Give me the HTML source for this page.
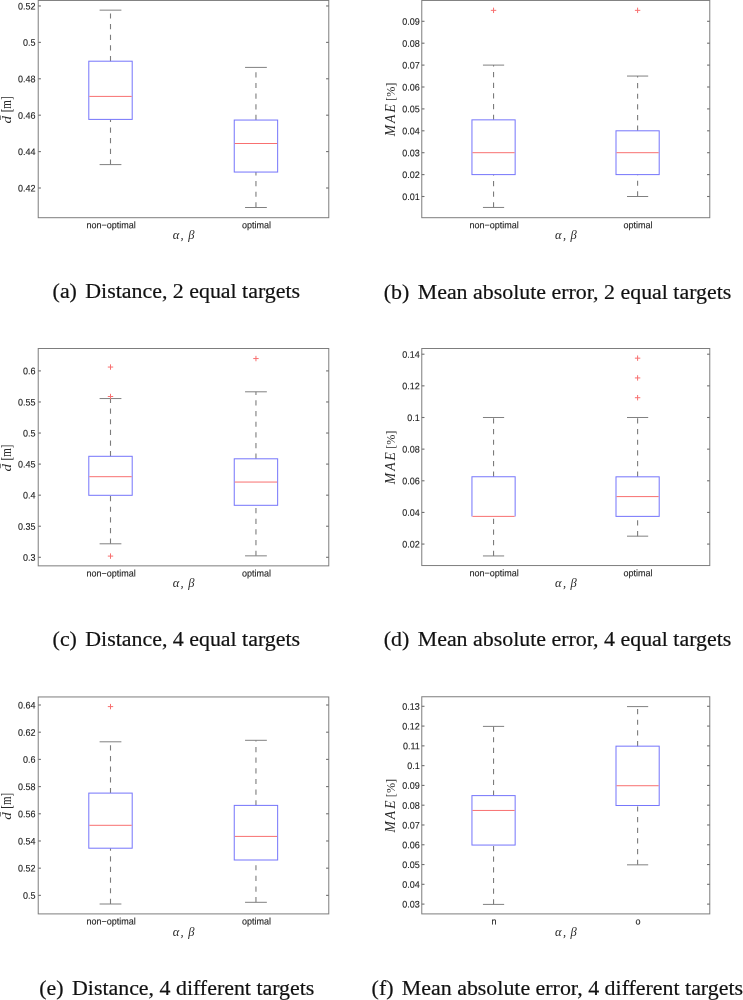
<!DOCTYPE html>
<html><head><meta charset="utf-8"><title>Boxplots</title>
<style>
html,body{margin:0;padding:0;background:#fff;}
body{width:743px;height:1000px;overflow:hidden;}
svg{display:block;}
.tk{font-family:"Liberation Sans",Arial,sans-serif;font-size:9.0px;fill:#1c1c1c;stroke:#1c1c1c;stroke-width:0.12px;}
.gx{font-family:"Liberation Serif","DejaVu Serif",serif;font-style:italic;font-size:12.5px;fill:#2a2a2a;}
.gy{font-family:"Liberation Serif","DejaVu Serif",serif;font-size:13.6px;fill:#2a2a2a;}
.it{font-style:italic;}
.cap{font-family:"Liberation Serif","Times New Roman",serif;font-size:21.9px;fill:#111;stroke:#111;stroke-width:0.2px;}
</style></head><body>
<svg width="743" height="1000" viewBox="0 0 743 1000">
<rect width="743" height="1000" fill="#fff"/>
<rect x="38.22" y="0.45" width="290.56" height="217.25" fill="none" stroke="#7d7d7d" stroke-width="1.0"/>
<line x1="38.22" y1="5.97" x2="40.92" y2="5.97" stroke="#707070" stroke-width="1.1"/>
<line x1="326.08" y1="5.97" x2="328.78" y2="5.97" stroke="#707070" stroke-width="1.1"/>
<text transform="translate(35.47,9.42) rotate(0.03) scale(1,1.05)" class="tk" text-anchor="end">0.52</text>
<line x1="38.22" y1="42.38" x2="40.92" y2="42.38" stroke="#707070" stroke-width="1.1"/>
<line x1="326.08" y1="42.38" x2="328.78" y2="42.38" stroke="#707070" stroke-width="1.1"/>
<text transform="translate(35.47,45.83) rotate(0.03) scale(1,1.05)" class="tk" text-anchor="end">0.5</text>
<line x1="38.22" y1="78.78" x2="40.92" y2="78.78" stroke="#707070" stroke-width="1.1"/>
<line x1="326.08" y1="78.78" x2="328.78" y2="78.78" stroke="#707070" stroke-width="1.1"/>
<text transform="translate(35.47,82.23) rotate(0.03) scale(1,1.05)" class="tk" text-anchor="end">0.48</text>
<line x1="38.22" y1="115.19" x2="40.92" y2="115.19" stroke="#707070" stroke-width="1.1"/>
<line x1="326.08" y1="115.19" x2="328.78" y2="115.19" stroke="#707070" stroke-width="1.1"/>
<text transform="translate(35.47,118.64) rotate(0.03) scale(1,1.05)" class="tk" text-anchor="end">0.46</text>
<line x1="38.22" y1="151.59" x2="40.92" y2="151.59" stroke="#707070" stroke-width="1.1"/>
<line x1="326.08" y1="151.59" x2="328.78" y2="151.59" stroke="#707070" stroke-width="1.1"/>
<text transform="translate(35.47,155.04) rotate(0.03) scale(1,1.05)" class="tk" text-anchor="end">0.44</text>
<line x1="38.22" y1="188.00" x2="40.92" y2="188.00" stroke="#707070" stroke-width="1.1"/>
<line x1="326.08" y1="188.00" x2="328.78" y2="188.00" stroke="#707070" stroke-width="1.1"/>
<text transform="translate(35.47,191.45) rotate(0.03) scale(1,1.05)" class="tk" text-anchor="end">0.42</text>
<line x1="110.50" y1="61.20" x2="110.50" y2="10.15" stroke="#7c7c7c" stroke-width="1.1" stroke-dasharray="5.2 5.45"/>
<line x1="110.50" y1="164.60" x2="110.50" y2="119.40" stroke="#7c7c7c" stroke-width="1.1" stroke-dasharray="5.2 5.45"/>
<line x1="99.60" y1="10.15" x2="121.40" y2="10.15" stroke="#808080" stroke-width="1.0"/>
<line x1="99.60" y1="164.60" x2="121.40" y2="164.60" stroke="#808080" stroke-width="1.0"/>
<rect x="88.80" y="61.20" width="43.40" height="58.20" fill="none" stroke="#7777fb" stroke-width="1.02"/>
<line x1="89.30" y1="96.40" x2="131.70" y2="96.40" stroke="#f87070" stroke-width="1.0"/>
<line x1="255.95" y1="120.05" x2="255.95" y2="67.40" stroke="#7c7c7c" stroke-width="1.1" stroke-dasharray="5.2 5.45"/>
<line x1="255.95" y1="207.50" x2="255.95" y2="172.05" stroke="#7c7c7c" stroke-width="1.1" stroke-dasharray="5.2 5.45"/>
<line x1="245.05" y1="67.40" x2="266.85" y2="67.40" stroke="#808080" stroke-width="1.0"/>
<line x1="245.05" y1="207.50" x2="266.85" y2="207.50" stroke="#808080" stroke-width="1.0"/>
<rect x="234.25" y="120.05" width="43.40" height="52.00" fill="none" stroke="#7777fb" stroke-width="1.02"/>
<line x1="234.75" y1="143.50" x2="277.15" y2="143.50" stroke="#f87070" stroke-width="1.0"/>
<text transform="translate(111.00,228.30) rotate(0.03) scale(1,1.05)" class="tk" text-anchor="middle">non−optimal</text>
<text transform="translate(256.45,228.30) rotate(0.03) scale(1,1.05)" class="tk" text-anchor="middle">optimal</text>
<text x="183.70" y="239.30" class="gx" text-anchor="middle">α<tspan dx="1.2">,</tspan><tspan dx="4.6">β</tspan></text>
<text class="gy" style="font-size:13.8px" transform="translate(11.2,112.37) rotate(-90) scale(0.8,1)">[m]</text>
<text class="gy it" style="font-size:13.2px" transform="translate(11.2,123.47) rotate(-90) scale(1.12,1)">d</text>
<text class="gy" style="font-size:18px;fill:#707070" transform="translate(13.75,120.07) rotate(-90) scale(0.48,1)">¯</text>
<text x="52.60" y="298.40" class="cap">(a) <tspan dx="2.93">Distance, 2 equal targets</tspan></text>
<rect x="421.78" y="0.45" width="288.00" height="217.25" fill="none" stroke="#7d7d7d" stroke-width="1.0"/>
<line x1="421.78" y1="21.30" x2="424.48" y2="21.30" stroke="#707070" stroke-width="1.1"/>
<line x1="707.08" y1="21.30" x2="709.78" y2="21.30" stroke="#707070" stroke-width="1.1"/>
<text transform="translate(419.73,24.75) rotate(0.03) scale(1,1.05)" class="tk" text-anchor="end">0.09</text>
<line x1="421.78" y1="43.20" x2="424.48" y2="43.20" stroke="#707070" stroke-width="1.1"/>
<line x1="707.08" y1="43.20" x2="709.78" y2="43.20" stroke="#707070" stroke-width="1.1"/>
<text transform="translate(419.73,46.65) rotate(0.03) scale(1,1.05)" class="tk" text-anchor="end">0.08</text>
<line x1="421.78" y1="65.10" x2="424.48" y2="65.10" stroke="#707070" stroke-width="1.1"/>
<line x1="707.08" y1="65.10" x2="709.78" y2="65.10" stroke="#707070" stroke-width="1.1"/>
<text transform="translate(419.73,68.55) rotate(0.03) scale(1,1.05)" class="tk" text-anchor="end">0.07</text>
<line x1="421.78" y1="87.00" x2="424.48" y2="87.00" stroke="#707070" stroke-width="1.1"/>
<line x1="707.08" y1="87.00" x2="709.78" y2="87.00" stroke="#707070" stroke-width="1.1"/>
<text transform="translate(419.73,90.45) rotate(0.03) scale(1,1.05)" class="tk" text-anchor="end">0.06</text>
<line x1="421.78" y1="108.90" x2="424.48" y2="108.90" stroke="#707070" stroke-width="1.1"/>
<line x1="707.08" y1="108.90" x2="709.78" y2="108.90" stroke="#707070" stroke-width="1.1"/>
<text transform="translate(419.73,112.35) rotate(0.03) scale(1,1.05)" class="tk" text-anchor="end">0.05</text>
<line x1="421.78" y1="130.80" x2="424.48" y2="130.80" stroke="#707070" stroke-width="1.1"/>
<line x1="707.08" y1="130.80" x2="709.78" y2="130.80" stroke="#707070" stroke-width="1.1"/>
<text transform="translate(419.73,134.25) rotate(0.03) scale(1,1.05)" class="tk" text-anchor="end">0.04</text>
<line x1="421.78" y1="152.70" x2="424.48" y2="152.70" stroke="#707070" stroke-width="1.1"/>
<line x1="707.08" y1="152.70" x2="709.78" y2="152.70" stroke="#707070" stroke-width="1.1"/>
<text transform="translate(419.73,156.15) rotate(0.03) scale(1,1.05)" class="tk" text-anchor="end">0.03</text>
<line x1="421.78" y1="174.60" x2="424.48" y2="174.60" stroke="#707070" stroke-width="1.1"/>
<line x1="707.08" y1="174.60" x2="709.78" y2="174.60" stroke="#707070" stroke-width="1.1"/>
<text transform="translate(419.73,178.05) rotate(0.03) scale(1,1.05)" class="tk" text-anchor="end">0.02</text>
<line x1="421.78" y1="196.50" x2="424.48" y2="196.50" stroke="#707070" stroke-width="1.1"/>
<line x1="707.08" y1="196.50" x2="709.78" y2="196.50" stroke="#707070" stroke-width="1.1"/>
<text transform="translate(419.73,199.95) rotate(0.03) scale(1,1.05)" class="tk" text-anchor="end">0.01</text>
<line x1="493.55" y1="119.85" x2="493.55" y2="65.10" stroke="#7c7c7c" stroke-width="1.1" stroke-dasharray="5.2 5.45"/>
<line x1="493.55" y1="207.45" x2="493.55" y2="174.60" stroke="#7c7c7c" stroke-width="1.1" stroke-dasharray="5.2 5.45"/>
<line x1="482.95" y1="65.10" x2="504.15" y2="65.10" stroke="#808080" stroke-width="1.0"/>
<line x1="482.95" y1="207.45" x2="504.15" y2="207.45" stroke="#808080" stroke-width="1.0"/>
<rect x="471.95" y="119.85" width="43.20" height="54.75" fill="none" stroke="#7777fb" stroke-width="1.02"/>
<line x1="472.45" y1="152.70" x2="514.65" y2="152.70" stroke="#f87070" stroke-width="1.0"/>
<line x1="490.85" y1="10.35" x2="496.25" y2="10.35" stroke="#f87070" stroke-width="1"/>
<line x1="493.55" y1="7.65" x2="493.55" y2="13.05" stroke="#f87070" stroke-width="1"/>
<line x1="637.60" y1="130.80" x2="637.60" y2="76.05" stroke="#7c7c7c" stroke-width="1.1" stroke-dasharray="5.2 5.45"/>
<line x1="637.60" y1="196.50" x2="637.60" y2="174.60" stroke="#7c7c7c" stroke-width="1.1" stroke-dasharray="5.2 5.45"/>
<line x1="627.00" y1="76.05" x2="648.20" y2="76.05" stroke="#808080" stroke-width="1.0"/>
<line x1="627.00" y1="196.50" x2="648.20" y2="196.50" stroke="#808080" stroke-width="1.0"/>
<rect x="616.00" y="130.80" width="43.20" height="43.80" fill="none" stroke="#7777fb" stroke-width="1.02"/>
<line x1="616.50" y1="152.70" x2="658.70" y2="152.70" stroke="#f87070" stroke-width="1.0"/>
<line x1="634.90" y1="10.35" x2="640.30" y2="10.35" stroke="#f87070" stroke-width="1"/>
<line x1="637.60" y1="7.65" x2="637.60" y2="13.05" stroke="#f87070" stroke-width="1"/>
<text transform="translate(494.05,228.30) rotate(0.03) scale(1,1.05)" class="tk" text-anchor="middle">non−optimal</text>
<text transform="translate(638.10,228.30) rotate(0.03) scale(1,1.05)" class="tk" text-anchor="middle">optimal</text>
<text x="565.98" y="239.30" class="gx" text-anchor="middle">α<tspan dx="1.2">,</tspan><tspan dx="4.6">β</tspan></text>
<text class="gy" text-anchor="middle" transform="translate(394.88,109.47) rotate(-90)"><tspan class="it" letter-spacing="2.1">MAE</tspan><tspan font-size="12.2" dx="1.2">[%]</tspan></text>
<text x="383.80" y="298.85" class="cap">(b) <tspan dx="2.93">Mean absolute error, 2 equal targets</tspan></text>
<rect x="38.22" y="348.50" width="290.56" height="217.35" fill="none" stroke="#7d7d7d" stroke-width="1.0"/>
<line x1="38.22" y1="370.90" x2="40.92" y2="370.90" stroke="#707070" stroke-width="1.1"/>
<line x1="326.08" y1="370.90" x2="328.78" y2="370.90" stroke="#707070" stroke-width="1.1"/>
<text transform="translate(35.47,374.35) rotate(0.03) scale(1,1.05)" class="tk" text-anchor="end">0.6</text>
<line x1="38.22" y1="401.97" x2="40.92" y2="401.97" stroke="#707070" stroke-width="1.1"/>
<line x1="326.08" y1="401.97" x2="328.78" y2="401.97" stroke="#707070" stroke-width="1.1"/>
<text transform="translate(35.47,405.42) rotate(0.03) scale(1,1.05)" class="tk" text-anchor="end">0.55</text>
<line x1="38.22" y1="433.03" x2="40.92" y2="433.03" stroke="#707070" stroke-width="1.1"/>
<line x1="326.08" y1="433.03" x2="328.78" y2="433.03" stroke="#707070" stroke-width="1.1"/>
<text transform="translate(35.47,436.48) rotate(0.03) scale(1,1.05)" class="tk" text-anchor="end">0.5</text>
<line x1="38.22" y1="464.10" x2="40.92" y2="464.10" stroke="#707070" stroke-width="1.1"/>
<line x1="326.08" y1="464.10" x2="328.78" y2="464.10" stroke="#707070" stroke-width="1.1"/>
<text transform="translate(35.47,467.55) rotate(0.03) scale(1,1.05)" class="tk" text-anchor="end">0.45</text>
<line x1="38.22" y1="495.17" x2="40.92" y2="495.17" stroke="#707070" stroke-width="1.1"/>
<line x1="326.08" y1="495.17" x2="328.78" y2="495.17" stroke="#707070" stroke-width="1.1"/>
<text transform="translate(35.47,498.62) rotate(0.03) scale(1,1.05)" class="tk" text-anchor="end">0.4</text>
<line x1="38.22" y1="526.23" x2="40.92" y2="526.23" stroke="#707070" stroke-width="1.1"/>
<line x1="326.08" y1="526.23" x2="328.78" y2="526.23" stroke="#707070" stroke-width="1.1"/>
<text transform="translate(35.47,529.68) rotate(0.03) scale(1,1.05)" class="tk" text-anchor="end">0.35</text>
<line x1="38.22" y1="557.30" x2="40.92" y2="557.30" stroke="#707070" stroke-width="1.1"/>
<line x1="326.08" y1="557.30" x2="328.78" y2="557.30" stroke="#707070" stroke-width="1.1"/>
<text transform="translate(35.47,560.75) rotate(0.03) scale(1,1.05)" class="tk" text-anchor="end">0.3</text>
<line x1="110.50" y1="456.30" x2="110.50" y2="398.55" stroke="#7c7c7c" stroke-width="1.1" stroke-dasharray="5.2 5.45"/>
<line x1="110.50" y1="543.80" x2="110.50" y2="495.30" stroke="#7c7c7c" stroke-width="1.1" stroke-dasharray="5.2 5.45"/>
<line x1="99.60" y1="398.55" x2="121.40" y2="398.55" stroke="#808080" stroke-width="1.0"/>
<line x1="99.60" y1="543.80" x2="121.40" y2="543.80" stroke="#808080" stroke-width="1.0"/>
<rect x="88.80" y="456.30" width="43.40" height="39.00" fill="none" stroke="#7777fb" stroke-width="1.02"/>
<line x1="89.30" y1="476.70" x2="131.70" y2="476.70" stroke="#f87070" stroke-width="1.0"/>
<line x1="107.80" y1="367.05" x2="113.20" y2="367.05" stroke="#f87070" stroke-width="1"/>
<line x1="110.50" y1="364.35" x2="110.50" y2="369.75" stroke="#f87070" stroke-width="1"/>
<line x1="107.80" y1="396.50" x2="113.20" y2="396.50" stroke="#f87070" stroke-width="1"/>
<line x1="110.50" y1="393.80" x2="110.50" y2="399.20" stroke="#f87070" stroke-width="1"/>
<line x1="107.80" y1="556.10" x2="113.20" y2="556.10" stroke="#f87070" stroke-width="1"/>
<line x1="110.50" y1="553.40" x2="110.50" y2="558.80" stroke="#f87070" stroke-width="1"/>
<line x1="255.95" y1="458.80" x2="255.95" y2="391.80" stroke="#7c7c7c" stroke-width="1.1" stroke-dasharray="5.2 5.45"/>
<line x1="255.95" y1="555.85" x2="255.95" y2="505.30" stroke="#7c7c7c" stroke-width="1.1" stroke-dasharray="5.2 5.45"/>
<line x1="245.05" y1="391.80" x2="266.85" y2="391.80" stroke="#808080" stroke-width="1.0"/>
<line x1="245.05" y1="555.85" x2="266.85" y2="555.85" stroke="#808080" stroke-width="1.0"/>
<rect x="234.25" y="458.80" width="43.40" height="46.50" fill="none" stroke="#7777fb" stroke-width="1.02"/>
<line x1="234.75" y1="482.05" x2="277.15" y2="482.05" stroke="#f87070" stroke-width="1.0"/>
<line x1="253.25" y1="358.55" x2="258.65" y2="358.55" stroke="#f87070" stroke-width="1"/>
<line x1="255.95" y1="355.85" x2="255.95" y2="361.25" stroke="#f87070" stroke-width="1"/>
<text transform="translate(111.00,576.45) rotate(0.03) scale(1,1.05)" class="tk" text-anchor="middle">non−optimal</text>
<text transform="translate(256.45,576.45) rotate(0.03) scale(1,1.05)" class="tk" text-anchor="middle">optimal</text>
<text x="183.70" y="587.45" class="gx" text-anchor="middle">α<tspan dx="1.2">,</tspan><tspan dx="4.6">β</tspan></text>
<text class="gy" style="font-size:13.8px" transform="translate(11.2,460.48) rotate(-90) scale(0.8,1)">[m]</text>
<text class="gy it" style="font-size:13.2px" transform="translate(11.2,471.57) rotate(-90) scale(1.12,1)">d</text>
<text class="gy" style="font-size:18px;fill:#707070" transform="translate(13.75,468.18) rotate(-90) scale(0.48,1)">¯</text>
<text x="52.60" y="646.40" class="cap">(c) <tspan dx="2.93">Distance, 4 equal targets</tspan></text>
<rect x="421.78" y="348.50" width="288.00" height="217.05" fill="none" stroke="#7d7d7d" stroke-width="1.0"/>
<line x1="421.78" y1="354.20" x2="424.48" y2="354.20" stroke="#707070" stroke-width="1.1"/>
<line x1="707.08" y1="354.20" x2="709.78" y2="354.20" stroke="#707070" stroke-width="1.1"/>
<text transform="translate(419.73,357.65) rotate(0.03) scale(1,1.05)" class="tk" text-anchor="end">0.14</text>
<line x1="421.78" y1="385.85" x2="424.48" y2="385.85" stroke="#707070" stroke-width="1.1"/>
<line x1="707.08" y1="385.85" x2="709.78" y2="385.85" stroke="#707070" stroke-width="1.1"/>
<text transform="translate(419.73,389.30) rotate(0.03) scale(1,1.05)" class="tk" text-anchor="end">0.12</text>
<line x1="421.78" y1="417.49" x2="424.48" y2="417.49" stroke="#707070" stroke-width="1.1"/>
<line x1="707.08" y1="417.49" x2="709.78" y2="417.49" stroke="#707070" stroke-width="1.1"/>
<text transform="translate(419.73,420.94) rotate(0.03) scale(1,1.05)" class="tk" text-anchor="end">0.1</text>
<line x1="421.78" y1="449.14" x2="424.48" y2="449.14" stroke="#707070" stroke-width="1.1"/>
<line x1="707.08" y1="449.14" x2="709.78" y2="449.14" stroke="#707070" stroke-width="1.1"/>
<text transform="translate(419.73,452.59) rotate(0.03) scale(1,1.05)" class="tk" text-anchor="end">0.08</text>
<line x1="421.78" y1="480.78" x2="424.48" y2="480.78" stroke="#707070" stroke-width="1.1"/>
<line x1="707.08" y1="480.78" x2="709.78" y2="480.78" stroke="#707070" stroke-width="1.1"/>
<text transform="translate(419.73,484.23) rotate(0.03) scale(1,1.05)" class="tk" text-anchor="end">0.06</text>
<line x1="421.78" y1="512.43" x2="424.48" y2="512.43" stroke="#707070" stroke-width="1.1"/>
<line x1="707.08" y1="512.43" x2="709.78" y2="512.43" stroke="#707070" stroke-width="1.1"/>
<text transform="translate(419.73,515.88) rotate(0.03) scale(1,1.05)" class="tk" text-anchor="end">0.04</text>
<line x1="421.78" y1="544.07" x2="424.48" y2="544.07" stroke="#707070" stroke-width="1.1"/>
<line x1="707.08" y1="544.07" x2="709.78" y2="544.07" stroke="#707070" stroke-width="1.1"/>
<text transform="translate(419.73,547.52) rotate(0.03) scale(1,1.05)" class="tk" text-anchor="end">0.02</text>
<line x1="493.55" y1="476.82" x2="493.55" y2="417.49" stroke="#7c7c7c" stroke-width="1.1" stroke-dasharray="5.2 5.45"/>
<line x1="493.55" y1="555.94" x2="493.55" y2="516.38" stroke="#7c7c7c" stroke-width="1.1" stroke-dasharray="5.2 5.45"/>
<line x1="482.95" y1="417.49" x2="504.15" y2="417.49" stroke="#808080" stroke-width="1.0"/>
<line x1="482.95" y1="555.94" x2="504.15" y2="555.94" stroke="#808080" stroke-width="1.0"/>
<path d="M471.95 516.38V476.82H515.15V516.38" fill="none" stroke="#7777fb" stroke-width="1.02"/>
<line x1="472.45" y1="516.38" x2="514.65" y2="516.38" stroke="#f87070" stroke-width="1.0"/>
<line x1="637.60" y1="476.82" x2="637.60" y2="417.49" stroke="#7c7c7c" stroke-width="1.1" stroke-dasharray="5.2 5.45"/>
<line x1="637.60" y1="536.16" x2="637.60" y2="516.38" stroke="#7c7c7c" stroke-width="1.1" stroke-dasharray="5.2 5.45"/>
<line x1="627.00" y1="417.49" x2="648.20" y2="417.49" stroke="#808080" stroke-width="1.0"/>
<line x1="627.00" y1="536.16" x2="648.20" y2="536.16" stroke="#808080" stroke-width="1.0"/>
<rect x="616.00" y="476.82" width="43.20" height="39.56" fill="none" stroke="#7777fb" stroke-width="1.02"/>
<line x1="616.50" y1="496.60" x2="658.70" y2="496.60" stroke="#f87070" stroke-width="1.0"/>
<line x1="634.90" y1="358.16" x2="640.30" y2="358.16" stroke="#f87070" stroke-width="1"/>
<line x1="637.60" y1="355.46" x2="637.60" y2="360.86" stroke="#f87070" stroke-width="1"/>
<line x1="634.90" y1="377.93" x2="640.30" y2="377.93" stroke="#f87070" stroke-width="1"/>
<line x1="637.60" y1="375.23" x2="637.60" y2="380.63" stroke="#f87070" stroke-width="1"/>
<line x1="634.90" y1="397.71" x2="640.30" y2="397.71" stroke="#f87070" stroke-width="1"/>
<line x1="637.60" y1="395.01" x2="637.60" y2="400.41" stroke="#f87070" stroke-width="1"/>
<text transform="translate(494.05,576.15) rotate(0.03) scale(1,1.05)" class="tk" text-anchor="middle">non−optimal</text>
<text transform="translate(638.10,576.15) rotate(0.03) scale(1,1.05)" class="tk" text-anchor="middle">optimal</text>
<text x="565.98" y="587.15" class="gx" text-anchor="middle">α<tspan dx="1.2">,</tspan><tspan dx="4.6">β</tspan></text>
<text class="gy" text-anchor="middle" transform="translate(394.88,457.42) rotate(-90)"><tspan class="it" letter-spacing="2.1">MAE</tspan><tspan font-size="12.2" dx="1.2">[%]</tspan></text>
<text x="383.80" y="646.20" class="cap">(d) <tspan dx="2.93">Mean absolute error, 4 equal targets</tspan></text>
<rect x="38.22" y="696.95" width="290.56" height="216.95" fill="none" stroke="#7d7d7d" stroke-width="1.0"/>
<line x1="38.22" y1="705.00" x2="40.92" y2="705.00" stroke="#707070" stroke-width="1.1"/>
<line x1="326.08" y1="705.00" x2="328.78" y2="705.00" stroke="#707070" stroke-width="1.1"/>
<text transform="translate(35.47,708.45) rotate(0.03) scale(1,1.05)" class="tk" text-anchor="end">0.64</text>
<line x1="38.22" y1="732.20" x2="40.92" y2="732.20" stroke="#707070" stroke-width="1.1"/>
<line x1="326.08" y1="732.20" x2="328.78" y2="732.20" stroke="#707070" stroke-width="1.1"/>
<text transform="translate(35.47,735.65) rotate(0.03) scale(1,1.05)" class="tk" text-anchor="end">0.62</text>
<line x1="38.22" y1="759.39" x2="40.92" y2="759.39" stroke="#707070" stroke-width="1.1"/>
<line x1="326.08" y1="759.39" x2="328.78" y2="759.39" stroke="#707070" stroke-width="1.1"/>
<text transform="translate(35.47,762.84) rotate(0.03) scale(1,1.05)" class="tk" text-anchor="end">0.6</text>
<line x1="38.22" y1="786.59" x2="40.92" y2="786.59" stroke="#707070" stroke-width="1.1"/>
<line x1="326.08" y1="786.59" x2="328.78" y2="786.59" stroke="#707070" stroke-width="1.1"/>
<text transform="translate(35.47,790.04) rotate(0.03) scale(1,1.05)" class="tk" text-anchor="end">0.58</text>
<line x1="38.22" y1="813.78" x2="40.92" y2="813.78" stroke="#707070" stroke-width="1.1"/>
<line x1="326.08" y1="813.78" x2="328.78" y2="813.78" stroke="#707070" stroke-width="1.1"/>
<text transform="translate(35.47,817.23) rotate(0.03) scale(1,1.05)" class="tk" text-anchor="end">0.56</text>
<line x1="38.22" y1="840.98" x2="40.92" y2="840.98" stroke="#707070" stroke-width="1.1"/>
<line x1="326.08" y1="840.98" x2="328.78" y2="840.98" stroke="#707070" stroke-width="1.1"/>
<text transform="translate(35.47,844.43) rotate(0.03) scale(1,1.05)" class="tk" text-anchor="end">0.54</text>
<line x1="38.22" y1="868.17" x2="40.92" y2="868.17" stroke="#707070" stroke-width="1.1"/>
<line x1="326.08" y1="868.17" x2="328.78" y2="868.17" stroke="#707070" stroke-width="1.1"/>
<text transform="translate(35.47,871.62) rotate(0.03) scale(1,1.05)" class="tk" text-anchor="end">0.52</text>
<line x1="38.22" y1="895.37" x2="40.92" y2="895.37" stroke="#707070" stroke-width="1.1"/>
<line x1="326.08" y1="895.37" x2="328.78" y2="895.37" stroke="#707070" stroke-width="1.1"/>
<text transform="translate(35.47,898.82) rotate(0.03) scale(1,1.05)" class="tk" text-anchor="end">0.5</text>
<line x1="110.50" y1="793.10" x2="110.50" y2="741.80" stroke="#7c7c7c" stroke-width="1.1" stroke-dasharray="5.2 5.45"/>
<line x1="110.50" y1="904.00" x2="110.50" y2="848.20" stroke="#7c7c7c" stroke-width="1.1" stroke-dasharray="5.2 5.45"/>
<line x1="99.60" y1="741.80" x2="121.40" y2="741.80" stroke="#808080" stroke-width="1.0"/>
<line x1="99.60" y1="904.00" x2="121.40" y2="904.00" stroke="#808080" stroke-width="1.0"/>
<rect x="88.80" y="793.10" width="43.40" height="55.10" fill="none" stroke="#7777fb" stroke-width="1.02"/>
<line x1="89.30" y1="825.30" x2="131.70" y2="825.30" stroke="#f87070" stroke-width="1.0"/>
<line x1="107.80" y1="706.60" x2="113.20" y2="706.60" stroke="#f87070" stroke-width="1"/>
<line x1="110.50" y1="703.90" x2="110.50" y2="709.30" stroke="#f87070" stroke-width="1"/>
<line x1="255.95" y1="805.40" x2="255.95" y2="740.30" stroke="#7c7c7c" stroke-width="1.1" stroke-dasharray="5.2 5.45"/>
<line x1="255.95" y1="902.30" x2="255.95" y2="860.00" stroke="#7c7c7c" stroke-width="1.1" stroke-dasharray="5.2 5.45"/>
<line x1="245.05" y1="740.30" x2="266.85" y2="740.30" stroke="#808080" stroke-width="1.0"/>
<line x1="245.05" y1="902.30" x2="266.85" y2="902.30" stroke="#808080" stroke-width="1.0"/>
<rect x="234.25" y="805.40" width="43.40" height="54.60" fill="none" stroke="#7777fb" stroke-width="1.02"/>
<line x1="234.75" y1="836.40" x2="277.15" y2="836.40" stroke="#f87070" stroke-width="1.0"/>
<text transform="translate(111.00,924.50) rotate(0.03) scale(1,1.05)" class="tk" text-anchor="middle">non−optimal</text>
<text transform="translate(256.45,924.50) rotate(0.03) scale(1,1.05)" class="tk" text-anchor="middle">optimal</text>
<text x="183.70" y="935.50" class="gx" text-anchor="middle">α<tspan dx="1.2">,</tspan><tspan dx="4.6">β</tspan></text>
<text class="gy" style="font-size:13.8px" transform="translate(11.2,808.72) rotate(-90) scale(0.8,1)">[m]</text>
<text class="gy it" style="font-size:13.2px" transform="translate(11.2,819.82) rotate(-90) scale(1.12,1)">d</text>
<text class="gy" style="font-size:18px;fill:#707070" transform="translate(13.75,816.42) rotate(-90) scale(0.48,1)">¯</text>
<text x="39.30" y="995.10" class="cap">(e) <tspan dx="2.93">Distance, 4 different targets</tspan></text>
<rect x="421.78" y="696.75" width="288.00" height="217.15" fill="none" stroke="#7d7d7d" stroke-width="1.0"/>
<line x1="421.78" y1="706.30" x2="424.48" y2="706.30" stroke="#707070" stroke-width="1.1"/>
<line x1="707.08" y1="706.30" x2="709.78" y2="706.30" stroke="#707070" stroke-width="1.1"/>
<text transform="translate(419.73,709.75) rotate(0.03) scale(1,1.05)" class="tk" text-anchor="end">0.13</text>
<line x1="421.78" y1="726.08" x2="424.48" y2="726.08" stroke="#707070" stroke-width="1.1"/>
<line x1="707.08" y1="726.08" x2="709.78" y2="726.08" stroke="#707070" stroke-width="1.1"/>
<text transform="translate(419.73,729.53) rotate(0.03) scale(1,1.05)" class="tk" text-anchor="end">0.12</text>
<line x1="421.78" y1="745.86" x2="424.48" y2="745.86" stroke="#707070" stroke-width="1.1"/>
<line x1="707.08" y1="745.86" x2="709.78" y2="745.86" stroke="#707070" stroke-width="1.1"/>
<text transform="translate(419.73,749.31) rotate(0.03) scale(1,1.05)" class="tk" text-anchor="end">0.11</text>
<line x1="421.78" y1="765.64" x2="424.48" y2="765.64" stroke="#707070" stroke-width="1.1"/>
<line x1="707.08" y1="765.64" x2="709.78" y2="765.64" stroke="#707070" stroke-width="1.1"/>
<text transform="translate(419.73,769.09) rotate(0.03) scale(1,1.05)" class="tk" text-anchor="end">0.1</text>
<line x1="421.78" y1="785.42" x2="424.48" y2="785.42" stroke="#707070" stroke-width="1.1"/>
<line x1="707.08" y1="785.42" x2="709.78" y2="785.42" stroke="#707070" stroke-width="1.1"/>
<text transform="translate(419.73,788.87) rotate(0.03) scale(1,1.05)" class="tk" text-anchor="end">0.09</text>
<line x1="421.78" y1="805.20" x2="424.48" y2="805.20" stroke="#707070" stroke-width="1.1"/>
<line x1="707.08" y1="805.20" x2="709.78" y2="805.20" stroke="#707070" stroke-width="1.1"/>
<text transform="translate(419.73,808.65) rotate(0.03) scale(1,1.05)" class="tk" text-anchor="end">0.08</text>
<line x1="421.78" y1="824.98" x2="424.48" y2="824.98" stroke="#707070" stroke-width="1.1"/>
<line x1="707.08" y1="824.98" x2="709.78" y2="824.98" stroke="#707070" stroke-width="1.1"/>
<text transform="translate(419.73,828.43) rotate(0.03) scale(1,1.05)" class="tk" text-anchor="end">0.07</text>
<line x1="421.78" y1="844.76" x2="424.48" y2="844.76" stroke="#707070" stroke-width="1.1"/>
<line x1="707.08" y1="844.76" x2="709.78" y2="844.76" stroke="#707070" stroke-width="1.1"/>
<text transform="translate(419.73,848.21) rotate(0.03) scale(1,1.05)" class="tk" text-anchor="end">0.06</text>
<line x1="421.78" y1="864.54" x2="424.48" y2="864.54" stroke="#707070" stroke-width="1.1"/>
<line x1="707.08" y1="864.54" x2="709.78" y2="864.54" stroke="#707070" stroke-width="1.1"/>
<text transform="translate(419.73,867.99) rotate(0.03) scale(1,1.05)" class="tk" text-anchor="end">0.05</text>
<line x1="421.78" y1="884.32" x2="424.48" y2="884.32" stroke="#707070" stroke-width="1.1"/>
<line x1="707.08" y1="884.32" x2="709.78" y2="884.32" stroke="#707070" stroke-width="1.1"/>
<text transform="translate(419.73,887.77) rotate(0.03) scale(1,1.05)" class="tk" text-anchor="end">0.04</text>
<line x1="421.78" y1="904.10" x2="424.48" y2="904.10" stroke="#707070" stroke-width="1.1"/>
<line x1="707.08" y1="904.10" x2="709.78" y2="904.10" stroke="#707070" stroke-width="1.1"/>
<text transform="translate(419.73,907.55) rotate(0.03) scale(1,1.05)" class="tk" text-anchor="end">0.03</text>
<line x1="493.55" y1="795.61" x2="493.55" y2="726.38" stroke="#7c7c7c" stroke-width="1.1" stroke-dasharray="5.2 5.45"/>
<line x1="493.55" y1="904.40" x2="493.55" y2="845.06" stroke="#7c7c7c" stroke-width="1.1" stroke-dasharray="5.2 5.45"/>
<line x1="482.95" y1="726.38" x2="504.15" y2="726.38" stroke="#808080" stroke-width="1.0"/>
<line x1="482.95" y1="904.40" x2="504.15" y2="904.40" stroke="#808080" stroke-width="1.0"/>
<rect x="471.95" y="795.61" width="43.20" height="49.45" fill="none" stroke="#7777fb" stroke-width="1.02"/>
<line x1="472.45" y1="810.44" x2="514.65" y2="810.44" stroke="#f87070" stroke-width="1.0"/>
<line x1="637.60" y1="746.16" x2="637.60" y2="706.60" stroke="#7c7c7c" stroke-width="1.1" stroke-dasharray="5.2 5.45"/>
<line x1="637.60" y1="864.84" x2="637.60" y2="805.50" stroke="#7c7c7c" stroke-width="1.1" stroke-dasharray="5.2 5.45"/>
<line x1="627.00" y1="706.60" x2="648.20" y2="706.60" stroke="#808080" stroke-width="1.0"/>
<line x1="627.00" y1="864.84" x2="648.20" y2="864.84" stroke="#808080" stroke-width="1.0"/>
<rect x="616.00" y="746.16" width="43.20" height="59.34" fill="none" stroke="#7777fb" stroke-width="1.02"/>
<line x1="616.50" y1="785.72" x2="658.70" y2="785.72" stroke="#f87070" stroke-width="1.0"/>
<text transform="translate(494.05,924.50) rotate(0.03) scale(1,1.05)" class="tk" text-anchor="middle">n</text>
<text transform="translate(638.10,924.50) rotate(0.03) scale(1,1.05)" class="tk" text-anchor="middle">o</text>
<text x="565.98" y="935.50" class="gx" text-anchor="middle">α<tspan dx="1.2">,</tspan><tspan dx="4.6">β</tspan></text>
<text class="gy" text-anchor="middle" transform="translate(394.88,805.73) rotate(-90)"><tspan class="it" letter-spacing="2.1">MAE</tspan><tspan font-size="12.2" dx="1.2">[%]</tspan></text>
<text x="371.60" y="995.10" class="cap">(f) <tspan dx="2.93">Mean absolute error, 4 different targets</tspan></text>
</svg>
</body></html>
